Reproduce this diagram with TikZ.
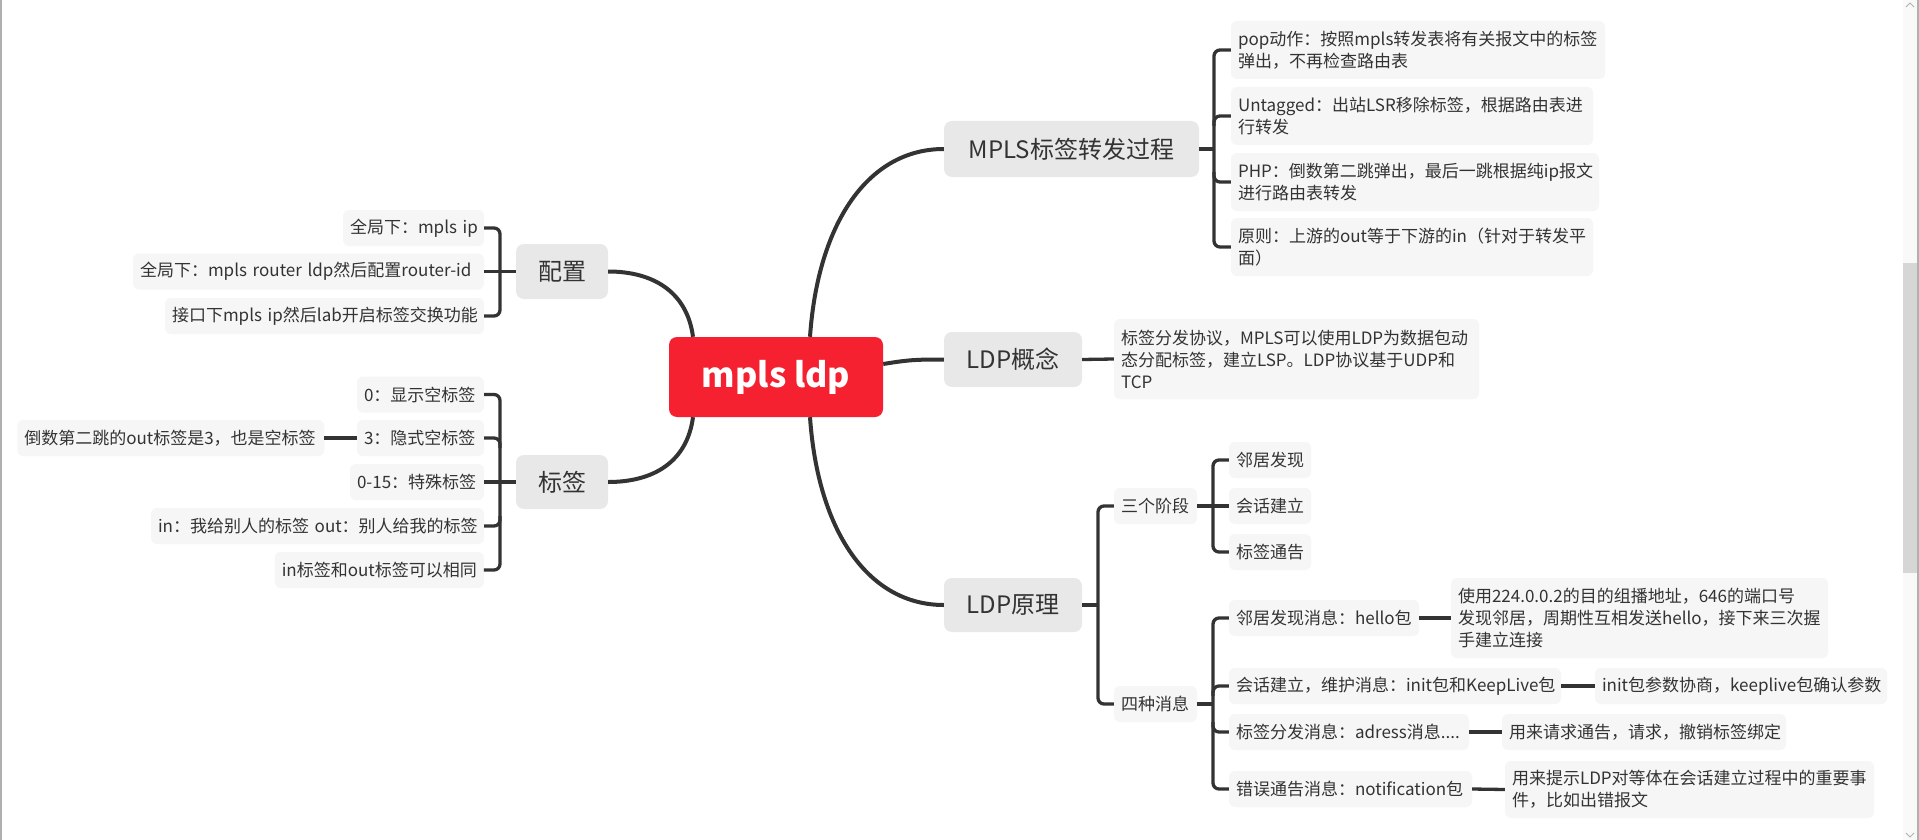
\documentclass[tikz,border=0pt]{standalone}
\usepackage{fontspec}
\setmainfont{Noto Sans CJK SC}
\definecolor{leafbg}{HTML}{F6F6F6}
\definecolor{brbg}{HTML}{E8E8E8}
\definecolor{rootred}{HTML}{F52130}
\definecolor{txt}{HTML}{333333}
\definecolor{ln}{HTML}{333333}
\definecolor{track}{HTML}{F9F9F9}
\definecolor{thumb}{HTML}{D6D6D6}
\definecolor{edge}{HTML}{B0B0B0}
\begin{document}
\begin{tikzpicture}[x=1pt,y=-1pt,
  leaf/.style={fill=leafbg, rounded corners=6pt, inner xsep=7pt, inner ysep=0pt, align=left, text=txt, font=\fontsize{17}{22}\selectfont},
  branch/.style={fill=brbg, rounded corners=8pt, text=txt, font=\fontsize{24}{28}\selectfont, inner sep=0pt},
  curve/.style={draw=ln, line width=4pt},
  br/.style={draw=ln, line width=3.3pt, rounded corners=6pt},
]
\useasboundingbox (0,0) rectangle (1919,840);
\fill[white] (0,0) rectangle (1919,840);
% window chrome
\fill[edge] (0,0) rectangle (1.5,840);
\fill[track] (1903,0) rectangle (1917,840);
\fill[edge] (1917,0) rectangle (1919,840);
\fill[thumb] (1903,263) rectangle (1917,573);
\draw[edge, line width=1pt] (1906,7) -- (1910,3) -- (1914,7);
\draw[edge, line width=1pt] (1906,833) -- (1910,837) -- (1914,833);

% ---------- root and main branches ----------
\node[fill=rootred, rounded corners=8pt, minimum width=214pt, minimum height=80pt, inner sep=0pt,
      text=white, font=\fontsize{34}{38}\selectfont\bfseries] (root) at (776,377) {mpls ldp};

\node[branch, minimum width=255pt, minimum height=56pt] (mpls) at (1071.5,149) {MPLS标签转发过程};
\node[branch, minimum width=138pt, minimum height=55pt] (ldpgn) at (1013,359.5) {LDP概念};
\node[branch, minimum width=138pt, minimum height=54pt] (ldpyl) at (1013,605) {LDP原理};
\node[branch, minimum width=92pt, minimum height=55pt] (peizhi) at (562,271.5) {配置};
\node[branch, minimum width=92pt, minimum height=54pt] (biaoqian) at (562,482) {标签};

\draw[curve] ([xshift=34pt]root.north) .. controls +(8,-115) and +(-75,0) .. (mpls.west);
\draw[curve] ([yshift=13pt]root.east) .. controls +(25,-4) and +(-30,0) .. (ldpgn.west);
\draw[curve] ([xshift=34pt]root.south) .. controls +(8,115) and +(-75,0) .. (ldpyl.west);
\draw[curve] ([xshift=-83pt]root.north) .. controls +(-6,-45) and +(45,0) .. (peizhi.east);
\draw[curve] ([xshift=-83pt]root.south) .. controls +(-6,45) and +(45,0) .. (biaoqian.east);

% ---------- MPLS children ----------
\node[leaf, text width=360pt, minimum height=58pt] (pop) at (1418,50) {pop动作：按照mpls转发表将有关报文中的标签\\弹出，不再检查路由表};
\node[leaf, text width=348pt, minimum height=58pt] (untag) at (1412,116) {Untagged：出站LSR移除标签，根据路由表进\\行转发};
\node[leaf, text width=354pt, minimum height=58pt] (php) at (1415,182) {PHP：倒数第二跳弹出，最后一跳根据纯ip报文\\进行路由表转发};
\node[leaf, text width=348pt, minimum height=58pt] (yuanze) at (1412,247) {原则：上游的out等于下游的in（针对于转发平\\面）};
\coordinate (bm) at (1214,149);
\draw[br] (mpls.east) -- (bm);
\draw[br] (pop.west) -| (bm) |- (yuanze.west);
\draw[br] (untag.west) -| ([yshift=-10pt]bm |- untag.west);
\draw[br] (php.west) -| ([yshift=10pt]bm |- php.west);

% ---------- LDP概念 child ----------
\node[leaf, text width=351pt, minimum height=80pt] (gnc) at (1296.5,359) {标签分发协议，MPLS可以使用LDP为数据包动\\态分配标签，建立LSP。LDP协议基于UDP和\\TCP};
\draw[br] (ldpgn.east) -- (gnc.west);

% ---------- LDP原理 ----------
\node[leaf, text width=69pt, minimum height=36pt] (sgjd) at (1155.5,506) {三个阶段};
\node[leaf, text width=69pt, minimum height=36pt] (szxx) at (1155.5,704) {四种消息};
\coordinate (by) at (1098,605);
\draw[br] (ldpyl.east) -- (by);
\draw[br] (sgjd.west) -| (by) |- (szxx.west);

\node[leaf, text width=68pt, minimum height=36pt] (ljfx) at (1270,460) {邻居发现};
\node[leaf, text width=68pt, minimum height=36pt] (hhjl) at (1270,506) {会话建立};
\node[leaf, text width=68pt, minimum height=36pt] (bqtg) at (1270,552) {标签通告};
\coordinate (bs) at (1213,506);
\draw[br] (sgjd.east) -- (hhjl.west);
\draw[br] (ljfx.west) -| (bs) |- (bqtg.west);

\node[leaf, text width=176pt, minimum height=36pt] (hello) at (1324,618) {邻居发现消息：hello包};
\node[leaf, text width=363pt, minimum height=80pt] (helloc) at (1639.5,618) {使用224.0.0.2的目的组播地址，646的端口号\\发现邻居，周期性互相发送hello，接下来三次握\\手建立连接};
\node[leaf, text width=318pt, minimum height=36pt] (init) at (1395,686) {会话建立，维护消息：init包和KeepLive包};
\node[leaf, text width=278pt, minimum height=36pt] (initc) at (1741,686) {init包参数协商，keeplive包确认参数};
\node[leaf, text width=226pt, minimum height=36pt] (adr) at (1349,732) {标签分发消息：adress消息....};
\node[leaf, text width=270pt, minimum height=36pt] (adrc) at (1644,732) {用来请求通告，请求，撤销标签绑定};
\node[leaf, text width=229pt, minimum height=36pt] (notif) at (1350.5,789) {错误通告消息：notification包};
\node[leaf, text width=355pt, minimum height=57pt] (notifc) at (1689.5,789.5) {用来提示LDP对等体在会话建立过程中的重要事\\件，比如出错报文};
\coordinate (bx) at (1213,704);
\draw[br] (szxx.east) -- (bx);
\draw[br] (hello.west) -| (bx) |- (notif.west);
\draw[br] (init.west) -| ([yshift=-10pt]bx |- init.west);
\draw[br] (adr.west) -| ([yshift=10pt]bx |- adr.west);
\draw[br] (hello.east) -- (helloc.west);
\draw[br] (init.east) -- (initc.west);
\draw[br] (adr.east) -- (adrc.west);
\draw[br] (notif.east) -- (notifc.west);

% ---------- 配置 ----------
\node[leaf, text width=127pt, minimum height=36pt] (mplsip) at (413.5,228) {\mbox{全局下：mpls ip}};
\node[leaf, text width=337pt, minimum height=36pt] (router) at (308.5,271.5) {\mbox{全局下：mpls router ldp然后配置router-id}};
\node[leaf, text width=305pt, minimum height=36pt] (jiekou) at (324.5,316) {\mbox{接口下mpls ip然后lab开启标签交换功能}};
\coordinate (bp) at (500,271.5);
\draw[br] (peizhi.west) -- (router.east);
\draw[br] (mplsip.east) -| (bp) |- (jiekou.east);

% ---------- 标签 ----------
\node[leaf, text width=113pt, minimum height=36pt] (l0) at (420.5,394.5) {0：显示空标签};
\node[leaf, text width=113pt, minimum height=36pt] (l3) at (420.5,438) {3：隐式空标签};
\node[leaf, text width=293pt, minimum height=36pt] (l3c) at (170.75,438) {倒数第二跳的out标签是3，也是空标签};
\node[leaf, text width=120pt, minimum height=36pt] (l015) at (417,482) {0-15：特殊标签};
\node[leaf, text width=319pt, minimum height=36pt] (inout) at (317.5,526) {\mbox{in：我给别人的标签 out：别人给我的标签}};
\node[leaf, text width=195pt, minimum height=36pt] (same) at (379.25,570) {in标签和out标签可以相同};
\coordinate (bb) at (500,482);
\draw[br] (biaoqian.west) -- (l015.east);
\draw[br] (l0.east) -| (bb) |- (same.east);
\draw[br] (l3.east) -| ([yshift=-10pt]bb |- l3.east);
\draw[br] (inout.east) -| ([yshift=10pt]bb |- inout.east);
\draw[br] (l3.west) -- (l3c.east);
\end{tikzpicture}
\end{document}
